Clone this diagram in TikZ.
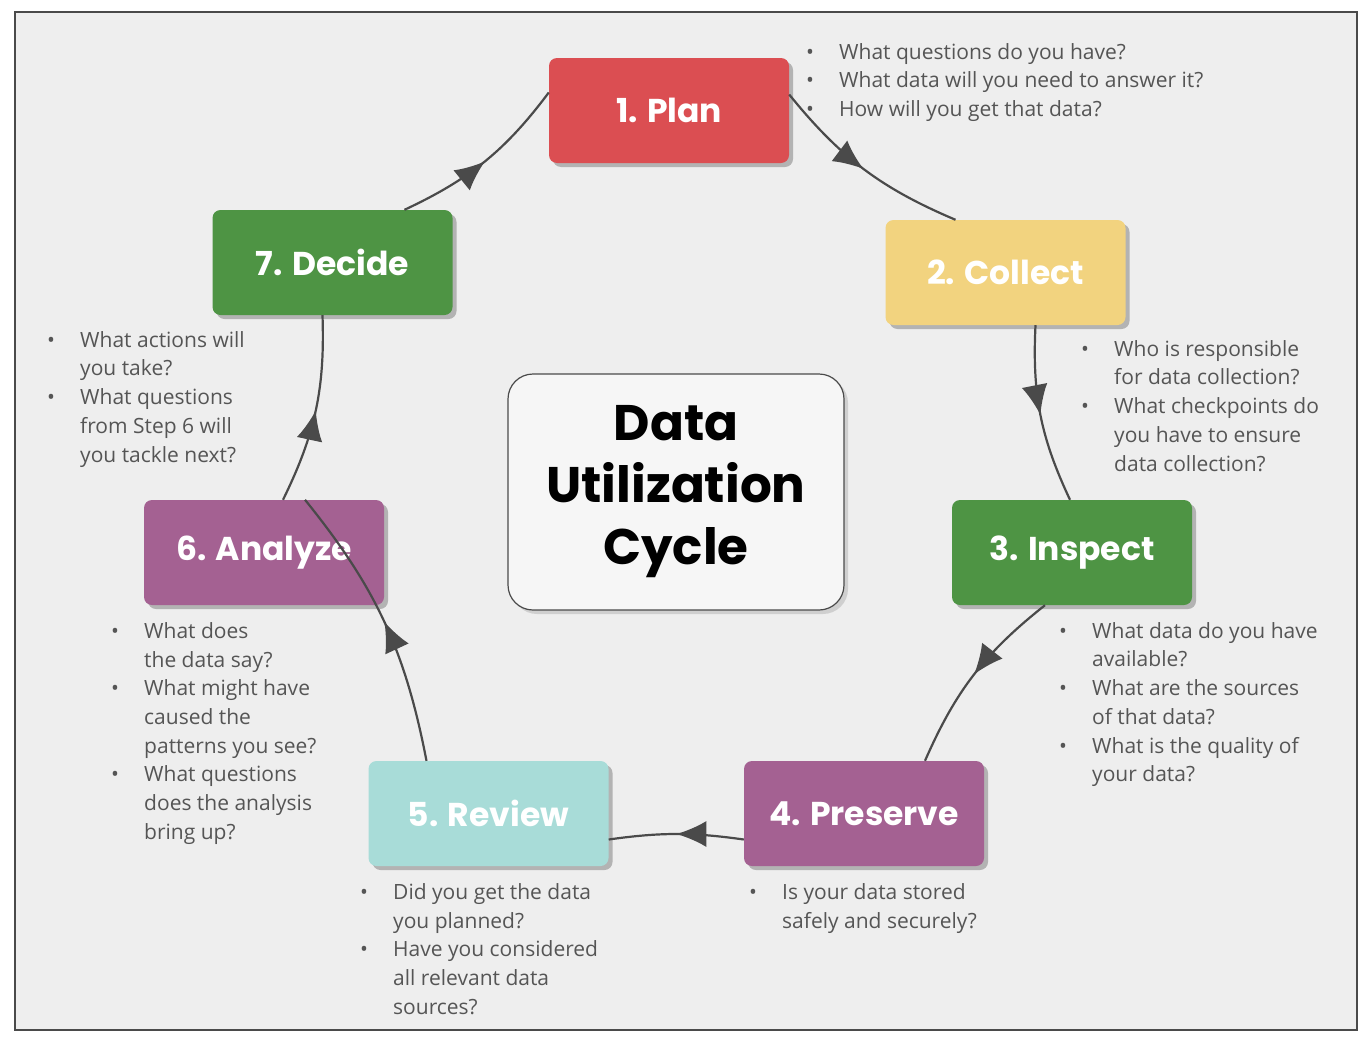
\documentclass[tikz,border=0pt]{standalone}
\usepackage{fontspec}
\setmainfont{Open Sans}
\newfontfamily\ttl{Poppins}[UprightFont=* SemiBold,BoldFont=* Bold]
\usetikzlibrary{shadows,decorations.markings,arrows.meta}
\definecolor{cred}{HTML}{DB4E52}
\definecolor{cyel}{HTML}{F2D37F}
\definecolor{cgrn}{HTML}{4E9444}
\definecolor{cpur}{HTML}{A46192}
\definecolor{ctea}{HTML}{A8DCD8}
\definecolor{ctxt}{HTML}{555555}
\definecolor{cln}{HTML}{4A4A4A}
\newcommand{\B}{\makebox[33pt][l]{\textbullet}}
\tikzset{
 box/.style={rounded corners=8pt,minimum width=240pt,minimum height=105pt,text=white,
   font=\ttl\bfseries\fontsize{33}{40}\selectfont,
   drop shadow={shadow xshift=4pt,shadow yshift=-4pt,fill=black!45,opacity=0.6}},
 lst/.style={anchor=north west,inner sep=0pt,text=ctxt,font=\fontsize{21}{28.7}\selectfont},
 cyc/.style={draw=cln,line width=2.2pt,postaction={decorate,decoration={markings,
   mark=at position 0.5 with {\arrow{Latex[length=30pt,width=26pt]}}}}}
}
\begin{document}
\begin{tikzpicture}[x=1pt,y=-1pt]
\useasboundingbox (0,0) rectangle (1370,1044);
\fill[white] (0,0) rectangle (1370,1044);
\draw[fill=gray!13,draw=cln,line width=2pt] (15,12) rectangle (1357,1030);
\node[box,fill=cred] (plan) at (669,110.5) {1. Plan};
\node[box,fill=cyel] (col) at (1005.5,272.5) {2. Collect};
\node[box,fill=cgrn] (ins) at (1072,552.5) {3. Inspect};
\node[box,fill=cpur] (pre) at (864,813.5) {4. Preserve};
\node[box,fill=ctea] (rev) at (488.5,813.5) {5. Review};
\node[box,fill=cpur] (ana) at (264,552.5) {6. Analyze};
\node[box,fill=cgrn] (dec) at (332.5,262.5) {7. Decide};
\node[draw=cln,line width=1.2pt,fill=gray!7,rounded corners=25pt,minimum width=336pt,minimum height=236pt,
  align=center,font=\ttl\bfseries\fontsize{50}{62}\selectfont,
  drop shadow={shadow xshift=4pt,shadow yshift=-4pt,fill=black!30,opacity=0.5}] (ctr) at (676,492) {Data\\Utilization\\Cycle};
\begin{scope}[on background layer/.style={}]
\end{scope}
\draw[cyc] ([yshift=16pt]plan.east) to[bend right=14] ([xshift=-50pt]col.north);
\draw[cyc] ([xshift=30pt]col.south) to[bend right=14] ([xshift=-2pt]ins.north);
\draw[cyc] ([xshift=-27pt]ins.south) to[bend right=14] ([xshift=61pt]pre.north);
\draw[cyc] ([yshift=-26pt]pre.west) to[bend right=8] ([yshift=-26pt]rev.east);
\draw[cyc] ([xshift=-62pt]rev.north) to[bend right=14] ([xshift=41pt]ana.north);
\draw[cyc] ([xshift=19pt]ana.north) to[bend right=14] ([xshift=-10pt]dec.south);
\draw[cyc] ([xshift=72pt]dec.north) to[bend right=14] ([yshift=18pt]plan.west);
\node[lst] (lp) at (806,39) {\begin{tabular}{@{}l@{}l@{}}\B&What questions do you have?\\\B&What data will you need to answer it?\\\B&How will you get that data?\end{tabular}};
\node[lst] (lc) at (1081,336) {\begin{tabular}{@{}l@{}l@{}}\B&Who is responsible\\&for data collection?\\\B&What checkpoints do\\&you have to ensure\\&data collection?\end{tabular}};
\node[lst] (li) at (1059,618) {\begin{tabular}{@{}l@{}l@{}}\B&What data do you have\\&available?\\\B&What are the sources\\&of that data?\\\B&What is the quality of\\&your data?\end{tabular}};
\node[lst] (lpr) at (749,879) {\begin{tabular}{@{}l@{}l@{}}\B&Is your data stored\\&safely and securely?\end{tabular}};
\node[lst] (lr) at (360,879) {\begin{tabular}{@{}l@{}l@{}}\B&Did you get the data\\&you planned?\\\B&Have you considered\\&all relevant data\\&sources?\end{tabular}};
\node[lst] (la) at (111,618) {\begin{tabular}{@{}l@{}l@{}}\B&What does\\&the data say?\\\B&What might have\\&caused the\\&patterns you see?\\\B&What questions\\&does the analysis\\&bring up?\end{tabular}};
\node[lst] (ld) at (47,327) {\begin{tabular}{@{}l@{}l@{}}\B&What actions will\\&you take?\\\B&What questions\\&from Step 6 will\\&you tackle next?\end{tabular}};
\end{tikzpicture}
\end{document}
